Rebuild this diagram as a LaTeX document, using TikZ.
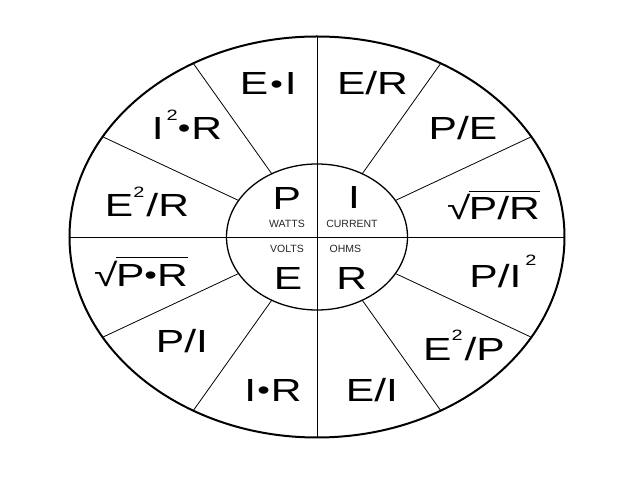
\documentclass[tikz,border=0pt]{standalone}
\usepackage{fontspec}
\setmainfont{Liberation Sans}
\newfontfamily\widefont[FakeStretch=1.33]{Liberation Sans}
\newcommand{\sq}[2][19pt]{\raisebox{#1}{\fontsize{15}{15}\selectfont #2}}
\newcommand{\bul}{\raisebox{1.5pt}{\fontsize{27}{27}\selectfont •}}
\newcommand{\rt}[1]{√\kern-1.5pt\setbox0\hbox{#1}\rlap{\rule[28pt]{\wd0}{1.4pt}}\box0}

\begin{document}
\begin{tikzpicture}[x=1pt,y=1pt,
big/.style={anchor=base, inner sep=0pt, font=\widefont\fontsize{32}{34}\selectfont},
unit/.style={inner sep=0pt, text=black!85, font=\fontsize{10.5}{12}\selectfont},
spoke/.style={line width=0.8pt}
]
\useasboundingbox (-317,-241) rectangle (321,237);
\fill[white] (-317,-241) rectangle (321,237);

% wheel
\draw[line width=2pt] (0,0) ellipse [x radius=247.5pt, y radius=200.5pt];
\draw[line width=1.3pt] (0,0) ellipse [x radius=90.5pt, y radius=73pt];
\draw[spoke] (180:247.5pt and 200.5pt) -- (0:247.5pt and 200.5pt);
\draw[spoke] (90:247.5pt and 200.5pt) -- (270:247.5pt and 200.5pt);
\foreach \a in {30,60,120,150,210,240,300,330}
  \draw[spoke] (\a:90.5pt and 73pt) -- (\a:247.5pt and 200.5pt);

% centre
\node[big] (p) at (-30.3,27) {P};
\node[big] (i) at (37,28.7) {I};
\node[big] (e) at (-29,-53) {E};
\node[big] (r) at (34.7,-53) {R};
\node[unit] (watts) at (-30,13) {WATTS};
\node[unit] (current) at (35,13) {CURRENT};
\node[unit] (volts) at (-30,-12) {VOLTS};
\node[unit] (ohms) at (28.5,-12) {OHMS};

% formulas
\node[big] (ei) at (-48.7,142) {E\kern2pt\bul\kern2pt I};
\node[big] (er) at (55.5,142) {E/R};
\node[big] (iir) at (-130,97.7) {I\kern3pt\sq{2}\bul\kern1pt R};
\node[big] (pe) at (146,97.7) {P/E};
\node[big] (eer) at (-170,20.3) {E\sq{2}\kern2pt/R};
\node[big] (spr) at (176.5,17) {\rt{P/R}};
\node[big] (spir) at (-176,-49.3) {\rt{P\bul R}};
\node[big] (pii) at (186,-50.3) {P/I\kern4pt\sq[22pt]{2}};
\node[big] (pi) at (-135,-116) {P/I};
\node[big] (eep) at (147,-123.7) {E\sq[20pt]{2}\kern2pt/P};
\node[big] (ir) at (-44,-164.3) {I\kern1pt\bul\kern1pt R};
\node[big] (ei2) at (55,-164.3) {E/I};
\end{tikzpicture}
\end{document}
